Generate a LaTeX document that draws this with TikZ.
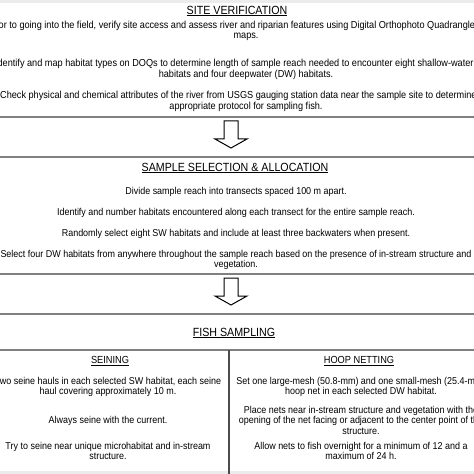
\documentclass[tikz,border=0pt]{standalone}
\usepackage{fontspec}
\setmainfont[FakeStretch=0.9]{Liberation Sans}
\usepackage{tikz}
\newcommand\bodyfont{\fontsize{10}{10.5}\selectfont}
\newcommand\widefont{\fontsize{10.2}{10.6}\selectfont}
\newcommand\headfont{\fontsize{11.9}{13}\selectfont}
\newcommand\subheadfont{\fontsize{10.3}{12}\selectfont}
\begin{document}
\begin{tikzpicture}[x=1bp,y=-1bp]
    \useasboundingbox (0,0) rectangle (474,474);
    \clip (0,0) rectangle (474,474);
    \fill[white] (0,0) rectangle (474,474);
    \fill[gray!15] (0,0) rectangle (474,3);
    \path[draw=gray, line width=1.2bp] (-20,-10) rectangle (494,117);
    \path[draw=gray, line width=1.2bp] (-20,157) rectangle (494,274);
    \path[draw=gray, line width=1.2bp] (-20,314) rectangle (494,490);
    \path[draw=gray, line width=1.2bp] (-20,350) -- (494,350);
    \fill[gray!15] (0,471) rectangle (474,474);
    \coordinate (top) at (229,350);
    \coordinate (bot) at (229,474);
    \path[draw=gray!60!black, line width=1.2bp] (top) -- (bot);
    \foreach \y in {121,278}{
        \draw[fill=white, line width=1bp] (224,\y) -- ++(14,0) -- ++(0,18) -- ++(9,0) -- ++(-16,9) -- ++(-16,-9) -- ++(9,0) -- cycle;
    }
    \node[font=\headfont, inner sep=0] (sv) at (237,11) {\underline{SITE VERIFICATION}};
    \foreach \i/\y/\w in {1/31/{Prior to going into the field, verify site access and assess river and riparian features using Digital Orthophoto Quadrangle (DOQ)\\maps.}, 2/69.5/{Identify and map habitat types on DOQs to determine length of sample reach needed to encounter eight shallow-water (SW)\\habitats and four deepwater (DW) habitats.}, 3/101.5/{Check physical and chemical attributes of the river from USGS gauging station data near the sample site to determine the\\appropriate protocol for sampling fish.}}{
        \node[align=center, font=\widefont, inner sep=0] (v\i) at (246,\y) {\w};
    }
    \node[font=\headfont, inner sep=0] (ss) at (235,168) {\underline{SAMPLE SELECTION \& ALLOCATION}};
    \foreach \i/\y/\w in {1/192/{Divide sample reach into transects spaced 100 m apart.}, 2/213/{Identify and number habitats encountered along each transect for the entire sample reach.}, 3/234/{Randomly select eight SW habitats and include at least three backwaters when present.}, 4/260/{Select four DW habitats from anywhere throughout the sample reach based on the presence of in-stream structure and\\vegetation.}}{
        \node[align=center, font=\bodyfont, inner sep=0] (s\i) at (236,\y) {\w};
    }
    \node[font=\headfont, inner sep=0] (fs) at (234,333) {\underline{FISH SAMPLING}};
    \node[font=\subheadfont, inner sep=0] (se) at (110,361) {\underline{SEINING}};
    \node[font=\subheadfont, inner sep=0] (hn) at (359,361) {\underline{HOOP NETTING}};
    \foreach \i/\y/\w in {1/387/{Two seine hauls in each selected SW habitat, each seine\\haul covering approximately 10 m.}, 2/421/{Always seine with the current.}, 3/451/{Try to seine near unique microhabitat and in-stream\\structure.}}{
        \node[align=center, font=\bodyfont, inner sep=0] (l\i) at (108,\y) {\w};
    }
    \foreach \i/\y/\w in {1/387/{Set one large-mesh (50.8-mm) and one small-mesh (25.4-mm)\\hoop net in each selected DW habitat.}, 2/420/{Place nets near in-stream structure and vegetation with the\\opening of the net facing or adjacent to the center point of the\\structure.}, 3/451/{Allow nets to fish overnight for a minimum of 12 and a\\maximum of 24 h.}}{
        \node[align=center, font=\bodyfont, inner sep=0] (r\i) at (361,\y) {\w};
    }
\end{tikzpicture}
\end{document}
